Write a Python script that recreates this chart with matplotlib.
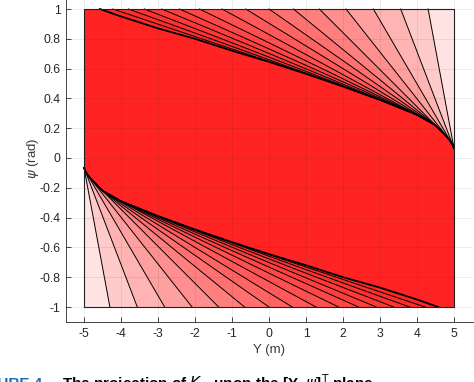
import numpy as np
import matplotlib
matplotlib.use('Agg')
import matplotlib.pyplot as plt
from matplotlib.patches import Polygon

plt.rcParams['font.family'] = ['Liberation Sans', 'DejaVu Sans']
plt.rcParams['mathtext.fontset'] = 'dejavusans'

# upper boundary of the projected set (Y in m, psi in rad)
env_y = [-4.57, -4.0, -3.0, -2.0, -1.0, 0.0, 1.0, 2.0, 3.0, 3.5, 4.0, 4.5, 4.7, 4.9, 4.97, 5.0]
env_psi = [1.0, 0.95, 0.87, 0.80, 0.72, 0.645, 0.565, 0.48, 0.39, 0.34, 0.29, 0.22, 0.17, 0.115, 0.085, 0.065]
# Y where each fan line leaves the psi = 1 edge (the lower fan is the mirror image)
fan_top = [-4.22, -3.80, -3.37, -2.90, -2.42, -1.88, -1.27, -0.63, 0.0, 0.66, 1.36, 2.08, 2.82, 3.56, 4.30]

y_lim = (-5.0, 5.0)
psi_lim = (-1.0, 1.0)
xticks = [-5, -4, -3, -2, -1, 0, 1, 2, 3, 4, 5]
yticks = [-1, -0.8, -0.6, -0.4, -0.2, 0, 0.2, 0.4, 0.6, 0.8, 1]
ytick_labels = ['-1', '-0.8', '-0.6', '-0.4', '-0.2', '0', '0.2', '0.4', '0.6', '0.8', '1']

alpha_layer = 0.11  # each patch adds a thin layer of red


def layer_color(n):
    g = (1 - alpha_layer) ** n
    return (1.0, g, g)


def boundary(x_top):
    """Polyline from (x_top, 1) tangent onto the envelope, then along it."""
    ey = np.array(env_y)
    ep = np.array(env_psi)
    if x_top <= ey[0]:
        return ey, ep
    right = ey > x_top
    slopes = np.full(len(ey), -np.inf)
    slopes[right] = (ep[right] - psi_lim[1]) / (ey[right] - x_top)
    i = int(np.argmax(slopes))
    return np.r_[x_top, ey[i:]], np.r_[psi_lim[1], ep[i:]]


fig = plt.figure(figsize=(4.74, 3.82), dpi=100)
ax = fig.add_axes([65.5 / 474, (382 - 321.9) / 382, 407 / 474, 327.8 / 382])

tops = [env_y[0]] + fan_top
n_b = len(tops)

# whole box: every layer overlaps here
rect = [(y_lim[0], psi_lim[0]), (y_lim[1], psi_lim[0]), (y_lim[1], psi_lim[1]), (y_lim[0], psi_lim[1])]
ax.add_patch(Polygon(rect, closed=True, facecolor=layer_color(n_b + 1), edgecolor='none', zorder=1))

lines = []
for k, xt in enumerate(tops):
    by, bp = boundary(xt)
    col = layer_color(n_b - k)
    up = np.column_stack([np.r_[by, y_lim[1]], np.r_[bp, psi_lim[1]]])
    ax.add_patch(Polygon(up, closed=True, facecolor=col, edgecolor='none', zorder=1 + k * 0.01))
    ax.add_patch(Polygon(-up, closed=True, facecolor=col, edgecolor='none', zorder=1 + k * 0.01))
    lines.append((by, bp))

for k, (by, bp) in enumerate(lines):
    lw = 1.3 if k == 0 else 0.7
    ax.plot(by, bp, color='k', lw=lw, zorder=2)
    ax.plot(-by, -bp, color='k', lw=lw, zorder=2)

ax.add_patch(Polygon(rect, closed=True, facecolor='none', edgecolor='#222222', lw=0.8, zorder=2.2))

ax.set_xlim(-5.5, 5.5)
ax.set_ylim(-1.1, 1.1)
ax.set_xticks(xticks)
ax.set_xticklabels([str(t) for t in xticks])
ax.set_yticks(yticks)
ax.set_yticklabels(ytick_labels)
ax.grid(True, color='#262626', alpha=0.12, lw=0.5)
ax.set_axisbelow(False)

for side in ['top', 'right']:
    ax.spines[side].set_visible(False)
for side in ['left', 'bottom']:
    ax.spines[side].set_color('#262626')
    ax.spines[side].set_linewidth(0.6)
ax.tick_params(direction='in', length=3.5, width=0.6, colors='#262626', labelsize=8.8)
ax.tick_params(axis='x', pad=4.5)
ax.tick_params(axis='y', pad=3.5)

ax.set_xlabel('Y (m)', fontsize=9.5, color='#3a3a3a', labelpad=3)
ax.set_ylabel(r'$\psi$ (rad)', fontsize=9.5, color='#3a3a3a', labelpad=-1)

# figure caption, cut off by the bottom edge as in the source
cap_y = (382 - 388.5) / 382
fig.text(47 / 474, cap_y, 'FIGURE 4.', color='#1a6fb0', fontsize=11,
         fontweight='bold', ha='right', va='baseline')
fig.text(62 / 474, cap_y, r'The projection of $K_{-}$ upon the [Y, $\psi$]$^{\mathrm{T}}$ plane.',
         color='black', fontsize=11, fontweight='bold', ha='left', va='baseline')

fig.savefig('out.png', dpi=100)
